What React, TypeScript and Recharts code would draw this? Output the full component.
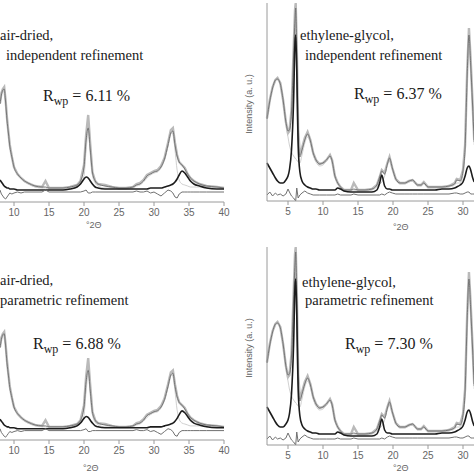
import { LineChart, Line, XAxis, YAxis } from 'recharts';

// Air-dried sample, 2θ from 8 to 40°
const adTheta = [
  8.0, 8.2, 8.4, 8.6, 8.8, 9.0, 9.2, 9.4, 9.7, 10.0, 10.5, 11.0, 11.5, 12.0, 13.0, 14.0, 14.5, 15.0, 16.0, 17.0,
  18.0, 19.0, 19.5, 20.0, 20.3, 20.6, 20.9, 21.2, 21.6, 22.0, 23.0, 24.0, 25.0, 26.0, 27.0, 27.5, 28.0, 28.5, 29.0, 29.5,
  30.0, 30.5, 31.0, 31.5, 32.0, 32.4, 32.7, 33.0, 33.3, 33.6, 34.0, 34.4, 34.8, 35.2, 35.7, 36.5, 37.5, 39.0, 40.0,
];
const adObs = [
  99, 109, 113, 115, 102, 84, 70, 57, 45, 35, 28, 24, 21, 19, 16, 15, 21, 14, 14, 14,
  15, 17, 21, 37, 67, 87, 57, 30, 21, 18, 17, 15, 14, 14, 15, 18, 19, 22, 27, 29,
  31, 32, 36, 44, 59, 72, 74, 59, 47, 40, 37, 34, 28, 24, 21, 18, 16, 15, 14,
];
const adCalc = [
  98, 107, 112, 113, 100, 82, 69, 56, 45, 35, 28, 24, 21, 19, 16, 15, 15, 14, 14, 14,
  15, 17, 21, 35, 62, 74, 52, 30, 21, 18, 16, 15, 14, 14, 15, 17, 18, 21, 26, 28,
  30, 31, 35, 43, 57, 69, 71, 57, 46, 40, 37, 33, 28, 24, 21, 18, 16, 15, 14,
];
const adPhaseA = [
  22, 20, 18, 16, 15, 14, 14, 13, 13, 13, 12, 12, 12, 12, 12, 12, 12, 12, 12, 12,
  13, 15, 18, 23, 25, 24, 21, 18, 15, 14, 13, 13, 13, 13, 13, 13, 13, 13, 13, 14,
  14, 14, 14, 15, 16, 17, 18, 20, 23, 27, 31, 29, 25, 21, 18, 16, 14, 13, 13,
];
const adPhaseB = [
  98, 107, 112, 113, 100, 82, 69, 56, 45, 35, 27, 23, 20, 18, 15, 14, 14, 13, 13, 13,
  14, 15, 18, 26, 52, 70, 50, 27, 19, 16, 14, 14, 13, 13, 14, 16, 17, 20, 24, 27,
  29, 30, 34, 42, 56, 68, 69, 52, 32, 22, 18, 17, 16, 15, 15, 15, 15, 15, 14,
];
const adDiff = [
  12, 8, 6, 4, 3, 5, 7, 9, 8, 9, 10, 9, 10, 10, 10, 10, 12, 10, 10, 10,
  10, 10, 10, 11, 12, 9, 9, 10, 10, 10, 10, 10, 10, 10, 10, 11, 10, 10, 11, 9,
  10, 8, 6, 9, 12, 11, 9, 5, 4, 8, 10, 10, 10, 10, 10, 10, 10, 10, 10,
];

// Ethylene-glycol solvated sample, 2θ from 2° upward
const egTheta = [
  2.0, 2.4, 2.8, 3.2, 3.5, 3.9, 4.3, 4.7, 5.0, 5.2, 5.5, 5.8, 6.0, 6.1, 6.25, 6.45, 6.7, 7.0, 7.4, 7.8,
  8.2, 8.6, 9.0, 9.5, 10.0, 10.5, 11.0, 11.3, 11.7, 12.1, 12.5, 13.0, 14.0, 14.4, 15.0, 16.0, 17.0, 17.7, 18.1, 18.4,
  18.8, 19.2, 19.5, 19.9, 20.4, 21.0, 21.7, 22.3, 22.8, 23.5, 24.0, 24.4, 25.0, 26.0, 27.0, 28.0, 28.8, 29.1, 29.6, 30.0,
  30.3, 30.6, 30.85, 31.1, 31.35, 31.6,
];
const egObs = [
  83, 101, 114, 121, 123, 118, 101, 79, 68, 70, 91, 151, 191, 198, 156, 71, 46, 53, 63, 69,
  61, 48, 41, 37, 38, 41, 46, 41, 25, 18, 14, 11, 11, 18, 11, 11, 12, 16, 24, 31,
  28, 38, 44, 33, 22, 18, 18, 20, 21, 16, 16, 19, 14, 14, 14, 15, 18, 22, 21, 31,
  56, 131, 173, 141, 101, 61,
];
const egCalc = [
  82, 100, 113, 121, 122, 117, 101, 79, 70, 71, 89, 146, 181, 193, 146, 66, 44, 51, 61, 67,
  60, 48, 41, 37, 38, 41, 45, 40, 25, 18, 14, 11, 11, 12, 11, 11, 12, 16, 24, 30,
  27, 37, 43, 33, 22, 18, 18, 20, 21, 16, 16, 18, 14, 14, 14, 15, 17, 21, 20, 30,
  54, 126, 166, 136, 99, 59,
];
const egPhaseA = [
  38, 33, 28, 23, 20, 18, 18, 21, 25, 31, 51, 101, 159, 166, 131, 56, 29, 20, 16, 14,
  13, 12, 12, 11, 11, 11, 11, 11, 11, 13, 12, 10, 9, 9, 9, 9, 9, 11, 18, 26,
  15, 12, 12, 11, 11, 11, 11, 11, 11, 11, 11, 11, 11, 11, 12, 12, 13, 14, 16, 19,
  25, 33, 35, 31, 24, 19,
];
const egPhaseB = [
  82, 100, 113, 121, 122, 117, 100, 77, 64, 56, 49, 45, 43, 42, 41, 39, 38, 46, 58, 64,
  58, 46, 39, 35, 36, 40, 44, 39, 24, 17, 13, 11, 10, 11, 10, 10, 11, 14, 17, 19,
  25, 37, 43, 32, 21, 17, 17, 19, 20, 15, 15, 17, 13, 13, 13, 14, 16, 18, 18, 26,
  51, 121, 161, 131, 96, 56,
];
const egDiff = [
  6, 9, 5, 8, 6, 7, 5, 7, 12, 9, 5, 3, 1, 0, 13, 3, 6, 8, 10, 8,
  7, 6, 6, 6, 6, 6, 6, 6, 6, 7, 6, 6, 6, 7, 6, 6, 6, 6, 6, 7,
  6, 8, 9, 8, 7, 7, 7, 7, 7, 7, 7, 7, 7, 7, 7, 7, 8, 8, 7, 7,
  8, 9, 9, 7, 7, 7,
];

const adTicks = [10, 15, 20, 25, 30, 35, 40];
const egTicks = [5, 10, 15, 20, 25, 30];
const egYTicks = [8, 36, 64, 92, 121, 149, 177];

const toRows = (theta, obs, calc, phaseA, phaseB, diff) =>
  theta.map((t, i) => ({ t, obs: obs[i], calc: calc[i], phaseA: phaseA[i], phaseB: phaseB[i], diff: diff[i] }));

const adRows = toRows(adTheta, adObs, adCalc, adPhaseA, adPhaseB, adDiff);
const egRows = toRows(egTheta, egObs, egCalc, egPhaseA, egPhaseB, egDiff);

const sans = '"Liberation Sans", Arial, sans-serif';
const serif = '"Liberation Serif", "Times New Roman", serif';

const Pattern = ({ rows, left, top, width, height, margin, xDomain, xTicks, yDomain, yTicks, showY }) => (
  <div style={{ position: 'absolute', left, top }}>
    <LineChart width={width} height={height} data={rows} margin={margin}>
      <XAxis
        dataKey="t"
        type="number"
        domain={xDomain}
        ticks={xTicks}
        height={24}
        tickSize={4}
        tickMargin={3}
        stroke="#9a9a9a"
        tick={{ fill: '#666', fontSize: 10, fontFamily: sans }}
      />
      <YAxis
        type="number"
        domain={yDomain}
        ticks={yTicks}
        hide={!showY}
        width={30}
        tick={false}
        tickSize={4}
        stroke="#9a9a9a"
      />
      <Line dataKey="obs" type="linear" stroke="#bababa" strokeWidth={2.4} dot={false} activeDot={false} isAnimationActive={false} />
      <Line dataKey="phaseB" type="monotone" stroke="#c4c4c4" strokeWidth={0.8} dot={false} activeDot={false} isAnimationActive={false} />
      <Line dataKey="calc" type="monotone" stroke="#6c6c6c" strokeWidth={0.9} dot={false} activeDot={false} isAnimationActive={false} />
      <Line dataKey="phaseA" type="monotone" stroke="#1c1c1c" strokeWidth={1.6} dot={false} activeDot={false} isAnimationActive={false} />
      <Line dataKey="diff" type="linear" stroke="#707070" strokeWidth={1} dot={false} activeDot={false} isAnimationActive={false} />
    </LineChart>
  </div>
);

const Note = ({ left, top, size = 14.5, children }) => (
  <div
    style={{
      position: 'absolute',
      left,
      top,
      fontFamily: serif,
      fontSize: size,
      lineHeight: '16px',
      color: '#1a1a1a',
      whiteSpace: 'nowrap',
    }}
  >
    {children}
  </div>
);

const Rwp = ({ left, top, value }) => (
  <Note left={left} top={top} size={16}>
    R<span style={{ fontSize: 12, position: 'relative', top: 4 }}>wp</span> = {value} %
  </Note>
);

const AxisTitle = ({ left, top }) => (
  <div style={{ position: 'absolute', left, top, fontFamily: sans, fontSize: 9, color: '#666', whiteSpace: 'nowrap' }}>
    °2Θ
  </div>
);

const IntensityTitle = ({ cx, cy }) => (
  <div
    style={{
      position: 'absolute',
      left: cx,
      top: cy,
      transform: 'translate(-50%, -50%) rotate(-90deg)',
      fontFamily: sans,
      fontSize: 9,
      color: '#666',
      whiteSpace: 'nowrap',
    }}
  >
    Intensity (a. u.)
  </div>
);

export default function App() {
  const adMargin = { top: 0, right: 16, bottom: 14, left: 0 };
  const egMargin = { top: 3, right: 5, bottom: 12, left: 0 };
  return (
    <div
      style={{
        position: 'absolute',
        left: 0,
        top: 0,
        width: 474,
        height: 474,
        overflow: 'hidden',
        background: '#fff',
      }}
    >
      <Pattern rows={adRows} left={0} top={0} width={240} height={240} margin={adMargin}
        xDomain={[8, 40]} xTicks={adTicks} yDomain={[0, 202]} showY={false} />
      <Pattern rows={adRows} left={0} top={250} width={240} height={228} margin={adMargin}
        xDomain={[8, 40]} xTicks={adTicks} yDomain={[0, 202]} showY={false} />
      <Pattern rows={egRows} left={237} top={0} width={266} height={237} margin={egMargin}
        xDomain={[2, 35]} xTicks={egTicks} yDomain={[0, 198]} yTicks={egYTicks} showY />
      <Pattern rows={egRows} left={237} top={244} width={266} height={237} margin={egMargin}
        xDomain={[2, 35]} xTicks={egTicks} yDomain={[0, 198]} yTicks={egYTicks} showY />

      <Note left={0} top={27}>air-dried,</Note>
      <Note left={6} top={47}>independent refinement</Note>
      <Rwp left={43} top={88} value="6.11" />

      <Note left={300} top={27}>ethylene-glycol,</Note>
      <Note left={305} top={47}>independent refinement</Note>
      <Rwp left={354} top={86} value="6.37" />

      <Note left={0} top={272}>air-dried,</Note>
      <Note left={0} top={292}>parametric refinement</Note>
      <Rwp left={33} top={336} value="6.88" />

      <Note left={302} top={274}>ethylene-glycol,</Note>
      <Note left={305} top={292}>parametric refinement</Note>
      <Rwp left={345} top={336} value="7.30" />

      <AxisTitle left={86} top={220} />
      <AxisTitle left={393} top={222} />
      <AxisTitle left={83} top={463} />
      <AxisTitle left={393} top={463} />

      <IntensityTitle cx={249} cy={104} />
      <IntensityTitle cx={249} cy={348} />
    </div>
  );
}
